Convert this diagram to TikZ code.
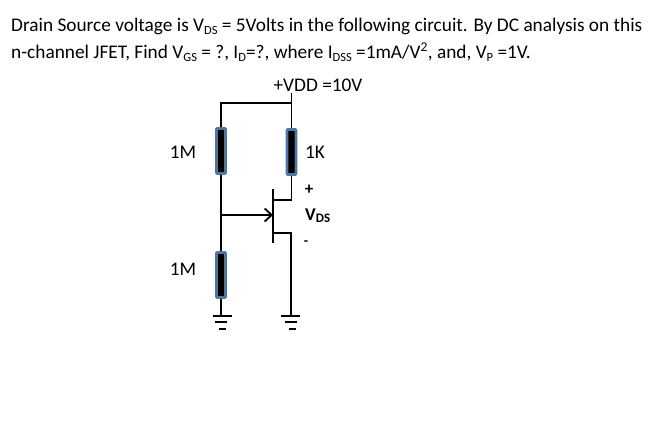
\documentclass[tikz,border=0pt]{standalone}
\usepackage{fontspec}
\setmainfont{Carlito}
\usetikzlibrary{arrows, arrows.meta}
\definecolor{resblue}{HTML}{4F75A3}
\newcommand{\lowsub}[1]{\raisebox{-2.5pt}{\fontsize{12.5}{12.5}\selectfont #1}}
\tikzset{
wire/.style={line width=1.8pt,black},
gndwire/.style={line width=1.5pt,black},
resistor/.style={draw=resblue,fill=black,line width=2.6pt,minimum width=9pt,inner sep=0pt,rounded corners=0.8pt},
txt/.style={inner sep=0pt,font=\fontsize{19.3}{21}\selectfont},
lbl/.style={inner sep=0pt,font=\fontsize{19.3}{21}\selectfont},
}
\begin{document}
\begin{tikzpicture}[x=1pt,y=-1pt]
\useasboundingbox (0,0) rectangle (672,425);

\node[txt,anchor=base west] (line1) at (11,32){Drain Source voltage is V\lowsub{DS} = 5Volts in the following circuit. By DC analysis on this};
\node[txt,anchor=base west] (line2) at (11,59){n-channel JFET, Find V\lowsub{GS} = ?, I\lowsub{D}=?, where I\lowsub{DSS} =1mA/V\textsuperscript{2}, and, V\lowsub{P} =1V.};
\node[lbl,anchor=base] (vddlbl) at (318,92){+VDD =10V};

\node[resistor,minimum height=45pt] (r1) at (221,151){}; %top left
\node[resistor,minimum height=45pt] (r2) at (291.5,152){}; %drain
\node[resistor,minimum height=45pt] (r3) at (221,275){}; %bottom left

\node[lbl] (r1lbl) at (183,152){1M};
\node[lbl] (r2lbl) at (315,152){1K};
\node[lbl] (r3lbl) at (183,269){1M};
\node[lbl,font=\fontsize{17}{17}\selectfont\bfseries] (plus) at (309,190){+};
\node[lbl,font=\fontsize{18}{17}\selectfont\bfseries,anchor=base west] (vds) at (305,220){V\raisebox{-2.5pt}{\fontsize{13}{12}\selectfont DS}};
\node[lbl,font=\fontsize{14}{14}\selectfont\bfseries] (minus) at (306,243){-};

\coordinate (vdd) at (291.5,93);
\coordinate (topl) at (221,103);
\coordinate (topr) at (291.5,103);
\coordinate (gate) at (273,215);
\coordinate (gatej) at (221,215);
\coordinate (bartop) at (273,189);
\coordinate (barbot) at (273,243);
\coordinate (drain) at (273,200);
\coordinate (draink) at (291.5,200);
\coordinate (source) at (273,233);
\coordinate (sourcek) at (291,233);
\coordinate (gndl) at (221,316);
\coordinate (gndr) at (291,316);

\draw[wire] (vdd) -- (topr) -- (topl) -- (r1.north);
\draw[wire] (topr) -- (r2.north);
\draw[wire] (r1.south) -- (r3.north);
\draw[wire] (r3.south) -- (gndl);
\draw[wire] (r2.south) -- (draink) -- (drain);
\draw[wire] (bartop) -- (barbot);
\draw[wire] (source) -- (sourcek) -- (gndr);
\draw[wire,-{Straight Barb[length=7pt,width=13pt]}] (gatej) -- (gate);

%grounds
\draw[gndwire] ([xshift=-8pt]gndl) -- ([xshift=11pt]gndl);
\draw[gndwire] ([xshift=-6pt,yshift=-6pt]gndl) -- ([xshift=6pt,yshift=-6pt]gndl);
\draw[gndwire] ([xshift=-2pt,yshift=-13pt]gndl) -- ([xshift=5pt,yshift=-13pt]gndl);
\draw[gndwire] ([xshift=-10pt]gndr) -- ([xshift=9pt]gndr);
\draw[gndwire] ([xshift=-6pt,yshift=-6pt]gndr) -- ([xshift=6pt,yshift=-6pt]gndr);
\draw[gndwire] ([xshift=-2pt,yshift=-13pt]gndr) -- ([xshift=5pt,yshift=-13pt]gndr);
\end{tikzpicture}
\end{document}
